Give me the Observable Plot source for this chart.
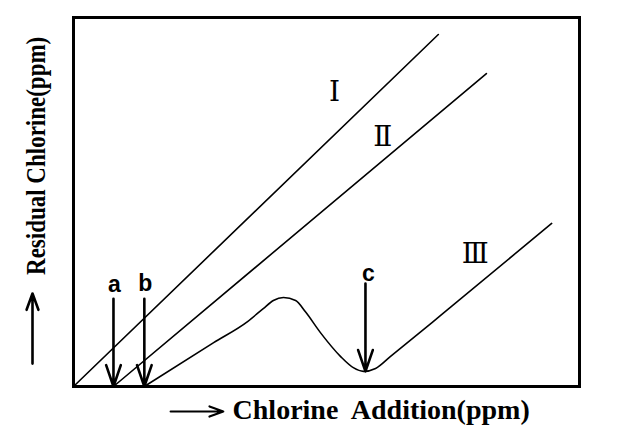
<!DOCTYPE html>
<html>
<head>
<meta charset="utf-8">
<script src="https://cdn.jsdelivr.net/npm/d3@7"></script>
<script src="https://cdn.jsdelivr.net/npm/@observablehq/plot@0.6"></script>
<style>
  html, body { margin: 0; padding: 0; background: #fff; }
  #chart svg { display: block; background: #fff; }
</style>
</head>
<body>
<div id="chart"></div>
<script>
// Chlorine addition (x) vs residual chlorine (y), arbitrary units
const lineIx = [0, 7.21];
const lineIy = [0, 9.54];
const lineIIx = [0.79, 8.16];
const lineIIy = [0, 8.48];
const lineIIIx = [1.40, 2.77, 3.44, 3.75, 3.95, 4.15, 4.39, 4.58, 4.88, 5.28, 5.53, 5.73, 5.97, 6.26, 7.25, 9.45];
const lineIIIy = [0, 1.19, 1.76, 2.11, 2.33, 2.41, 2.33, 2.03, 1.46, 0.81, 0.51, 0.41, 0.49, 0.81, 1.92, 4.42];

const pointNames = ["a", "b", "c"];
const pointX = [0.79, 1.40, 5.77];
const pointArrowTop = [2.38, 2.38, 2.79];
const pointArrowTip = [0, 0, 0.41];
const pointLabelX = [0.81, 1.42, 5.83];
const pointLabelY = [2.77, 2.80, 3.07];

const curveNames = ["Ⅰ", "Ⅱ", "Ⅲ"];
const curveLabelX = [5.16, 6.11, 7.94];
const curveLabelY = [7.99, 6.75, 3.58];

const xTitle = "Chlorine  Addition(ppm)";
const yTitle = "Residual Chlorine(ppm)";

const toRows = (xs, ys) => xs.map((x, i) => ({x, y: ys[i]}));
const lines = [
  ...toRows(lineIx, lineIy).map(d => ({...d, s: "I"})),
  ...toRows(lineIIx, lineIIy).map(d => ({...d, s: "II"})),
];
const lineIII = toRows(lineIIIx, lineIIIy);
const points = pointNames.map((n, i) => ({n, x: pointX[i], y1: pointArrowTop[i], y2: pointArrowTip[i], lx: pointLabelX[i], ly: pointLabelY[i]}));
const curves = curveNames.map((n, i) => ({n, x: curveLabelX[i], y: curveLabelY[i]}));

const serif = "'Liberation Serif', 'Times New Roman', 'DejaVu Serif', serif";

const chart = Plot.plot({
  width: 625,
  height: 440,
  marginLeft: 73,
  marginRight: 46,
  marginTop: 17,
  marginBottom: 54,
  x: {domain: [0, 10], axis: null},
  y: {domain: [0, 10], axis: null},
  marks: [
    Plot.line(lines, {x: "x", y: "y", z: "s", stroke: "#000", strokeWidth: 1.6}),
    Plot.line(lineIII, {x: "x", y: "y", stroke: "#000", strokeWidth: 1.6, curve: "monotone-x"}),
    Plot.arrow(points, {x1: "x", x2: "x", y1: "y1", y2: "y2", stroke: "#000", strokeWidth: 2.6, headLength: 13, headAngle: 38}),
    Plot.text(points, {x: "lx", y: "ly", text: "n", fontSize: 23, fontWeight: "bold", fontFamily: "'Liberation Sans', Arial, sans-serif", fill: "#000"}),
    Plot.text(curves, {x: "x", y: "y", text: "n", fontSize: 28, fontFamily: serif, fill: "#000"}),
    Plot.frame({stroke: "#000", strokeWidth: 3}),
    // y-axis title with upward arrow
    Plot.text([yTitle], {x: 0, y: 6.25, dx: -37, text: d => d, rotate: -90, fontSize: 23, fontWeight: "bold", fontFamily: serif, fill: "#000", className: "ytitle"}),
    Plot.arrow([0], {x1: 0, x2: 0, dx: -41, y1: 0.62, y2: 2.52, stroke: "#000", strokeWidth: 2.6, headLength: 10, headAngle: 40}),
    // x-axis title with rightward arrow
    Plot.text([xTitle], {x: 6.08, y: 0, dy: 24, text: d => d, fontSize: 28, fontWeight: "bold", fontFamily: serif, fill: "#000"}),
    Plot.arrow([0], {x1: 1.92, x2: 2.96, y1: 0, y2: 0, dy: 25, stroke: "#000", strokeWidth: 2.2, headLength: 10, headAngle: 40})
  ]
});
// widen the rotated y title glyphs slightly to match the reference's stretched lettering
d3.select(chart).selectAll(".ytitle text").attr("transform", function() {
  const t = this.getAttribute("transform") || "";
  return t + " scale(1,1.22)";
});
document.getElementById("chart").appendChild(chart);
</script>
</body>
</html>
